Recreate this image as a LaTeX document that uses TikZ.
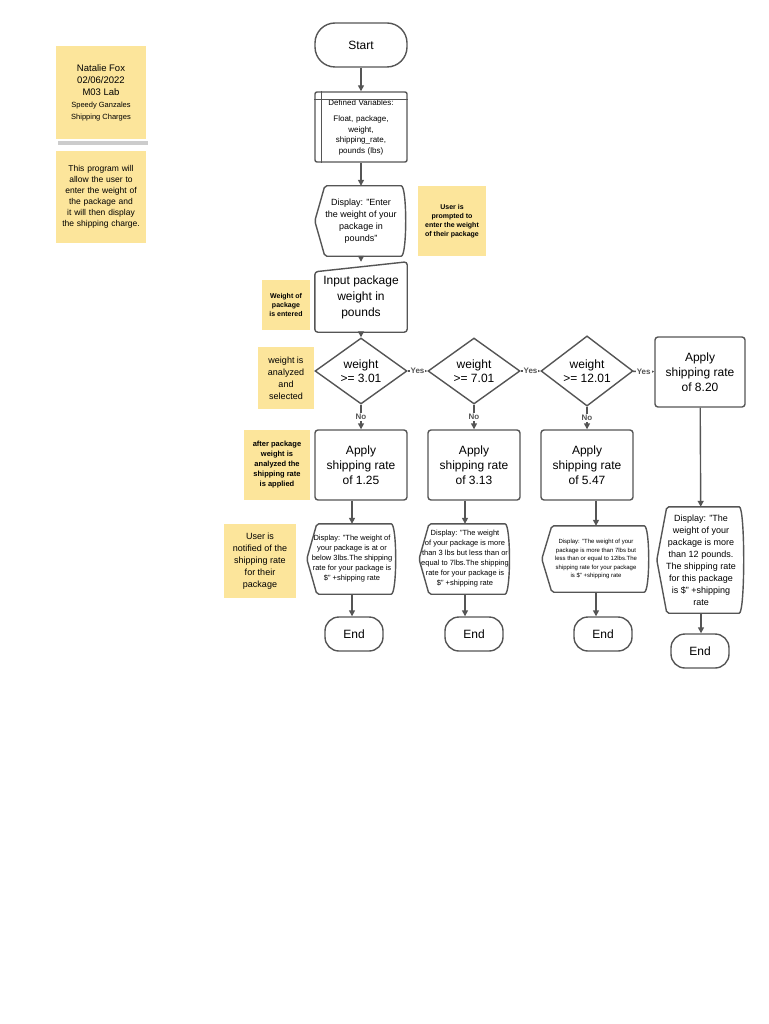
\documentclass[tikz,border=0pt]{standalone}
\usepackage{fontspec}
\setmainfont{Liberation Sans}
\usetikzlibrary{shapes.geometric,arrows.meta,positioning}

\definecolor{ln}{HTML}{555555}
\definecolor{note}{HTML}{FCE59B}
\tikzstyle{term}=[draw=ln,line width=1.4pt,rounded corners=14pt,minimum width=58pt,minimum height=34pt,font=\fontsize{12}{14}\selectfont]
\tikzstyle{proc}=[draw=ln,line width=1.4pt,rounded corners=3pt,minimum width=92pt,minimum height=70pt,align=center,font=\fontsize{12}{15}\selectfont]
\tikzstyle{dec}=[draw=ln,line width=1.4pt,diamond,inner sep=0pt,minimum width=92pt,minimum height=66pt,align=center,font=\fontsize{12}{14}\selectfont]
\tikzstyle{disp}=[minimum width=92pt,minimum height=70pt,align=center,inner sep=2pt]
\tikzstyle{sticky}=[fill=note,align=center,inner sep=2pt,font=\fontsize{8}{10}\selectfont]
\tikzstyle{ed}=[draw=ln,line width=1.4pt,-{Triangle[length=6pt,width=6pt]}]
\tikzstyle{lbl}=[fill=white,inner sep=1pt,font=\bfseries\fontsize{8}{9}\selectfont,text=ln]

\newcommand{\dispshape}[1]{%
  \draw[ln,line width=1.4pt,rounded corners=2pt] (#1.west) -- ([xshift=10pt]#1.north west) -- ([xshift=-8pt]#1.north east)
    .. controls (#1.north east) and (#1.south east) .. ([xshift=-8pt]#1.south east) -- ([xshift=10pt]#1.south west) -- cycle;}

\begin{document}
\begin{tikzpicture}[x=1pt,y=-1pt]
  \useasboundingbox (0,0) rectangle (768,1024);

  % sticky notes
  \fill[black!20] (58,141) rectangle (148,145);
  \node[sticky,minimum width=90pt,minimum height=93pt,font=\fontsize{9.5}{12}\selectfont] (n1) at (101,93)
    {Natalie Fox\\02/06/2022\\M03 Lab\\{\fontsize{7.5}{10}\selectfont Speedy Ganzales}\\{\fontsize{7.5}{10}\selectfont Shipping Charges}};
  \node[sticky,minimum width=90pt,minimum height=91pt,text width=84pt,font=\fontsize{8.5}{11}\selectfont] (n2) at (101,197)
    {This program will allow the user to enter the weight of the package and  it will then display the shipping charge.};
  \node[sticky,minimum width=68pt,minimum height=70pt,font=\bfseries\fontsize{7}{9}\selectfont] (n3) at (452,221)
    {User is\\prompted to\\enter the weight\\of their package};
  \node[sticky,minimum width=48pt,minimum height=50pt,font=\bfseries\fontsize{7}{9}\selectfont] (n4) at (286,305)
    {Weight of\\package\\is entered};
  \node[sticky,minimum width=56pt,minimum height=62pt,font=\fontsize{9}{12}\selectfont] (n5) at (286,378)
    {weight is\\analyzed\\and\\selected};
  \node[sticky,minimum width=66pt,minimum height=70pt,font=\bfseries\fontsize{7.5}{10}\selectfont] (n6) at (277,465)
    {after package\\weight is\\analyzed the\\shipping rate\\is applied};
  \node[sticky,minimum width=72pt,minimum height=74pt,font=\fontsize{9}{12}\selectfont] (n7) at (260,561)
    {User is\\notified of the\\shipping rate\\for their\\package};

  % main flow
  \node[term,minimum width=92pt,minimum height=44pt,rounded corners=20pt] (start) at (361,45) {Start};
  \node[proc,rounded corners=2pt,font=\fontsize{8}{10.5}\selectfont,text width=80pt] (vars) at (361,127)
    {\vspace{6pt}Defined Variables:\\Float, package,\\weight,\\shipping\_rate,\\pounds (lbs)};
  \draw[ln,line width=1.4pt] ([xshift=7pt]vars.north west) -- ([xshift=7pt]vars.south west);
  \draw[ln,line width=1.4pt] ([yshift=-8pt]vars.north west) -- ([yshift=-8pt]vars.north east);
  \node[disp,font=\fontsize{9}{12}\selectfont] (ask) at (361,221) {Display: "Enter\\the weight of your\\package in\\pounds"};
  \dispshape{ask}
  \node[disp,font=\fontsize{12}{16}\selectfont] (input) at (361,297) {Input package\\weight in\\pounds};
  \draw[ln,line width=1.4pt,rounded corners=3pt] (input.south west) -- ([yshift=-10pt]input.north west) -- (input.north east) -- (input.south east) -- cycle;

  \node[dec] (d1) at (361,371) {weight\\>= 3.01};
  \node[dec] (d2) at (474,371) {weight\\>= 7.01};
  \node[dec] (d3) at (587,371) {weight\\>= 12.01};
  \node[proc,minimum width=90pt] (r4) at (700,372) {Apply\\shipping rate\\of 8.20};

  \node[proc] (r1) at (361,465) {Apply\\shipping rate\\of 1.25};
  \node[proc] (r2) at (474,465) {Apply\\shipping rate\\of 3.13};
  \node[proc] (r3) at (587,465) {Apply\\shipping rate\\of 5.47};

  \node[disp,minimum width=90pt,font=\fontsize{7.5}{10}\selectfont] (o1) at (352,559)
    {Display: "The weight of\\your package is at or\\below 3lbs.The shipping\\rate for your package is\\\$" +shipping rate};
  \dispshape{o1}
  \node[disp,minimum width=90pt,font=\fontsize{7.5}{10}\selectfont] (o2) at (465,559)
    {Display: "The weight\\of your package is more\\than 3 lbs but less than or\\equal to 7lbs.The shipping\\rate for your package is\\\$" +shipping rate};
  \dispshape{o2}
  \node[disp,minimum width=108pt,minimum height=66pt,font=\fontsize{6}{8.5}\selectfont] (o3) at (596,559)
    {Display: "The weight of your\\package is more than 7lbs but\\less than or equal to 12lbs.The\\shipping rate for your package\\is \$" +shipping rate};
  \dispshape{o3}
  \node[disp,minimum width=88pt,minimum height=106pt,font=\fontsize{9}{12}\selectfont] (o4) at (701,560)
    {Display: "The\\weight of your\\package is more\\than 12 pounds.\\The shipping rate\\for this package\\is \$" +shipping\\rate};
  \dispshape{o4}

  \node[term] (e1) at (354,634) {End};
  \node[term] (e2) at (474,634) {End};
  \node[term] (e3) at (603,634) {End};
  \node[term] (e4) at (700,651) {End};

  % connectors
  \path (start) edge[ed] (vars);
  \path (vars) edge[ed] (ask);
  \path (ask) edge[ed] (input);
  \path (input) edge[ed] (d1);
  \path (d1) edge[ed] node[lbl] {Yes} (d2);
  \path (d2) edge[ed] node[lbl] {Yes} (d3);
  \path (d3) edge[ed] node[lbl] {Yes} (r4);
  \path (d1) edge[ed] node[lbl] {No} (r1);
  \path (d2) edge[ed] node[lbl] {No} (r2);
  \path (d3) edge[ed] node[lbl] {No} (r3);
  \draw[ed] (r1.south -| o1.north) -- (o1.north);
  \draw[ed] (r2.south -| o2.north) -- (o2.north);
  \draw[ed] (r3.south -| o3.north) -- (o3.north);
  \path (r4) edge[ed] (o4);
  \draw[ed] (o1.south) -- (o1.south |- e1.north);
  \draw[ed] (o2.south) -- (o2.south |- e2.north);
  \draw[ed] (o3.south) -- (o3.south |- e3.north);
  \draw[ed] (o4.south) -- (o4.south |- e4.north);
\end{tikzpicture}
\end{document}
